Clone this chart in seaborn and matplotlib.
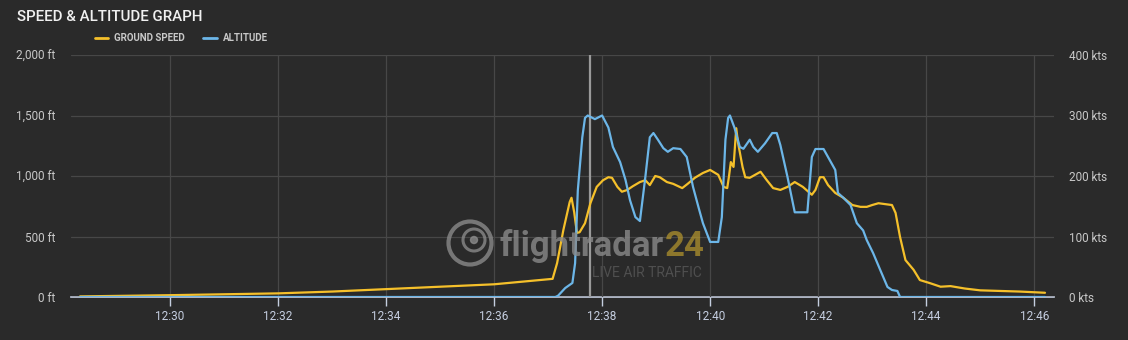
import matplotlib
matplotlib.use("Agg")
import matplotlib.pyplot as plt
import matplotlib.dates as mdates
from matplotlib.ticker import FuncFormatter, FixedLocator
from matplotlib.patches import Circle
import pandas as pd
import seaborn as sns

# ---------------- data ----------------
speed_times = ["12:28:20", "12:30:00", "12:31:00", "12:32:00", "12:33:00", "12:34:00", "12:35:00",
               "12:36:00", "12:37:05", "12:37:10", "12:37:17", "12:37:24", "12:37:26", "12:37:29",
               "12:37:32", "12:37:35", "12:37:41", "12:37:47", "12:37:54", "12:38:01", "12:38:07",
               "12:38:11", "12:38:17", "12:38:22", "12:38:28", "12:38:34", "12:38:42", "12:38:48",
               "12:38:53", "12:38:59", "12:39:04", "12:39:12", "12:39:19", "12:39:29", "12:39:35",
               "12:39:43", "12:39:52", "12:40:00", "12:40:09", "12:40:15", "12:40:19", "12:40:21",
               "12:40:23", "12:40:26", "12:40:29", "12:40:31", "12:40:36", "12:40:39", "12:40:44",
               "12:40:56", "12:41:03", "12:41:10", "12:41:18", "12:41:26", "12:41:34", "12:41:43",
               "12:41:53", "12:41:57", "12:42:02", "12:42:06", "12:42:11", "12:42:19", "12:42:28",
               "12:42:38", "12:42:47", "12:42:54", "12:43:00", "12:43:07", "12:43:22", "12:43:26",
               "12:43:31", "12:43:37", "12:43:46", "12:43:53", "12:44:04", "12:44:16", "12:44:27",
               "12:44:43", "12:45:00", "12:45:22", "12:45:44", "12:46:12"]
speed_kts = [1, 3, 4.5, 6, 9, 13, 17,
             21, 30, 56, 111, 157, 164, 140,
             106, 107, 122, 155, 182, 193, 198,
             197, 182, 174, 177, 183, 190, 193,
             185, 200, 198, 190, 187, 180, 187,
             197, 205, 210, 202, 182, 180, 200,
             223, 215, 279, 255, 215, 198, 197,
             207, 193, 180, 177, 182, 190, 182,
             169, 177, 198, 198, 185, 172, 164,
             152, 149, 149, 152, 155, 152, 139,
             99, 61, 45, 28, 23, 17, 18,
             14, 11, 10, 9, 7]

alt_times = ["12:28:20", "12:37:08", "12:37:11", "12:37:19", "12:37:27", "12:37:30", "12:37:33",
             "12:37:38", "12:37:41", "12:37:44", "12:37:52", "12:38:00", "12:38:07", "12:38:12",
             "12:38:20", "12:38:26", "12:38:31", "12:38:37", "12:38:42", "12:38:48", "12:38:53",
             "12:38:57", "12:39:02", "12:39:08", "12:39:13", "12:39:19", "12:39:27", "12:39:34",
             "12:39:41", "12:39:47", "12:39:52", "12:40:00", "12:40:09", "12:40:13", "12:40:17",
             "12:40:20", "12:40:22", "12:40:27", "12:40:33", "12:40:37", "12:40:44", "12:40:48",
             "12:40:53", "12:41:01", "12:41:09", "12:41:14", "12:41:18", "12:41:26", "12:41:34",
             "12:41:48", "12:41:53", "12:41:57", "12:42:06", "12:42:13", "12:42:19", "12:42:22",
             "12:42:28", "12:42:36", "12:42:43", "12:42:50", "12:42:54", "12:43:01", "12:43:09",
             "12:43:17", "12:43:22", "12:43:28", "12:43:31", "12:46:12"]
alt_ft = [0, 0, 10, 74, 116, 280, 880,
          1320, 1480, 1500, 1470, 1500, 1400, 1240,
          1115, 967, 800, 660, 628, 990, 1320,
          1355, 1300, 1230, 1200, 1230, 1223, 1157,
          910, 744, 610, 455, 455, 660, 1300,
          1480, 1500, 1400, 1240, 1225, 1300, 1240,
          1200, 1270, 1355, 1355, 1256, 990, 700,
          700, 1157, 1223, 1223, 1130, 1050, 860,
          820, 760, 610, 550, 470, 364, 223,
          83, 58, 50, 0, 0]

x_ticks = ["12:30", "12:32", "12:34", "12:36", "12:38", "12:40", "12:42", "12:44", "12:46"]
alt_ticks = [0, 500, 1000, 1500, 2000]
speed_ticks = [0, 100, 200, 300, 400]
cursor_time = "12:37:46"
x_range = ("12:28:10", "12:46:22")

DAY = "2024-01-01 "
def tt(s):
    return pd.to_datetime(DAY + s)

speed_df = pd.DataFrame({"time": [tt(s) for s in speed_times], "kts": speed_kts})
alt_df = pd.DataFrame({"time": [tt(s) for s in alt_times], "ft": alt_ft})

# ---------------- style ----------------
BG = "#2a2a2a"
GRID = "#474747"
TXT = "#c8c8c8"
AXIS = "#c5cee0"
YELLOW = "#f5c02a"
BLUE = "#6cb6e8"
WM = "#8a8a8a"

sns.set_theme(style="dark", rc={"axes.facecolor": BG, "figure.facecolor": BG})
plt.rcParams["font.family"] = ["Roboto", "DejaVu Sans"]

W, H = 1128, 340
fig = plt.figure(figsize=(W / 100, H / 100), dpi=100)
ax = fig.add_axes([71 / W, 1 - 297 / H, (1054 - 71) / W, (297 - 55) / H])
ax.set_facecolor(BG)
ax2 = ax.twinx()

sns.lineplot(data=speed_df, x="time", y="kts", ax=ax, color=YELLOW, linewidth=1.6, label="GROUND SPEED", legend=False)
sns.lineplot(data=alt_df, x="time", y="ft", ax=ax2, color=BLUE, linewidth=1.6, label="ALTITUDE", legend=False)

ax.set_xlim(tt(x_range[0]), tt(x_range[1]))
ax.set_ylim(0, 400)
ax2.set_ylim(0, 2000)

ax.xaxis.set_major_locator(FixedLocator([mdates.date2num(tt(s)) for s in x_ticks]))
ax.xaxis.set_major_formatter(mdates.DateFormatter("%H:%M"))

ax.yaxis.tick_right()
ax.set_yticks(speed_ticks)
ax.yaxis.set_major_formatter(FuncFormatter(lambda v, p: f"{int(v)} kts"))
ax2.yaxis.tick_left()
ax2.set_yticks(alt_ticks)
ax2.yaxis.set_major_formatter(FuncFormatter(lambda v, p: f"{int(v):,} ft"))

for a in (ax, ax2):
    a.set_xlabel("")
    a.set_ylabel("")

ax.grid(True, axis="both", color=GRID, linewidth=0.9)
ax2.grid(False)
ax.set_axisbelow(True)

for a in (ax, ax2):
    for s in a.spines.values():
        s.set_visible(False)
ax.spines["bottom"].set_visible(True)
ax.spines["bottom"].set_color(AXIS)
ax.spines["bottom"].set_linewidth(1.2)
ax.spines["bottom"].set_zorder(0.5)

ax.tick_params(axis="x", colors=AXIS, length=6.5, width=1, pad=3, labelsize=8.5, labelcolor=AXIS, bottom=True)
ax.tick_params(axis="y", length=0, pad=11, labelsize=8.5, labelcolor=TXT, right=False, left=False)
ax2.tick_params(axis="y", length=0, pad=11, labelsize=8.5, labelcolor=TXT, right=False, left=False)

ax.axvline(tt(cursor_time), color="#9a9a9a", linewidth=1.6, zorder=1.5)

# title
fig.text(17 / W, 1 - 17 / H, "SPEED & ALTITUDE GRAPH", color="#f0f0f0", fontsize=10.8,
         fontweight="medium", va="center", ha="left")

# legend
h1, l1 = ax.get_legend_handles_labels()
h2, l2 = ax2.get_legend_handles_labels()
leg = fig.legend(h1 + h2, l1 + l2, loc="center left", bbox_to_anchor=(86 / W, 1 - 38 / H),
                 ncol=2, frameon=False, handlelength=1.4, handletextpad=0.6, columnspacing=1.9,
                 prop={"size": 7, "weight": "bold", "family": ["Roboto", "DejaVu Sans"]})
for t in leg.get_texts():
    t.set_color(TXT)
for lh in leg.legend_handles:
    lh.set_linewidth(2)

# watermark
wm1 = fig.text(499 / W, 1 - 246 / H, "flightradar", color=WM, alpha=0.8, fontsize=25,
               fontweight="bold", ha="left", va="center")
fig.canvas.draw()
bb = wm1.get_window_extent()
fig.text((bb.x1 + 1) / W, 1 - 246 / H, "24", color="#b8992e", alpha=0.7, fontsize=25,
         fontweight="bold", ha="left", va="center")
fig.text(592 / W, 1 - 273 / H, "LIVE AIR TRAFFIC", color="#4f4f4f", fontsize=10,
         ha="left", va="center")
tr = fig.dpi_scale_trans
ring = Circle((470 / 100, (H - 243) / 100), 0.215, transform=tr, fill=False,
              edgecolor=WM, linewidth=3, alpha=0.8)
ring2 = Circle((474 / 100, (H - 240) / 100), 0.11, transform=tr, fill=False,
               edgecolor=WM, linewidth=2.2, alpha=0.8)
dot = Circle((474 / 100, (H - 240) / 100), 0.035, transform=tr, color=WM, alpha=0.8)
fig.patches.extend([ring, ring2, dot])

fig.savefig("out.png", dpi=100, facecolor=BG)
